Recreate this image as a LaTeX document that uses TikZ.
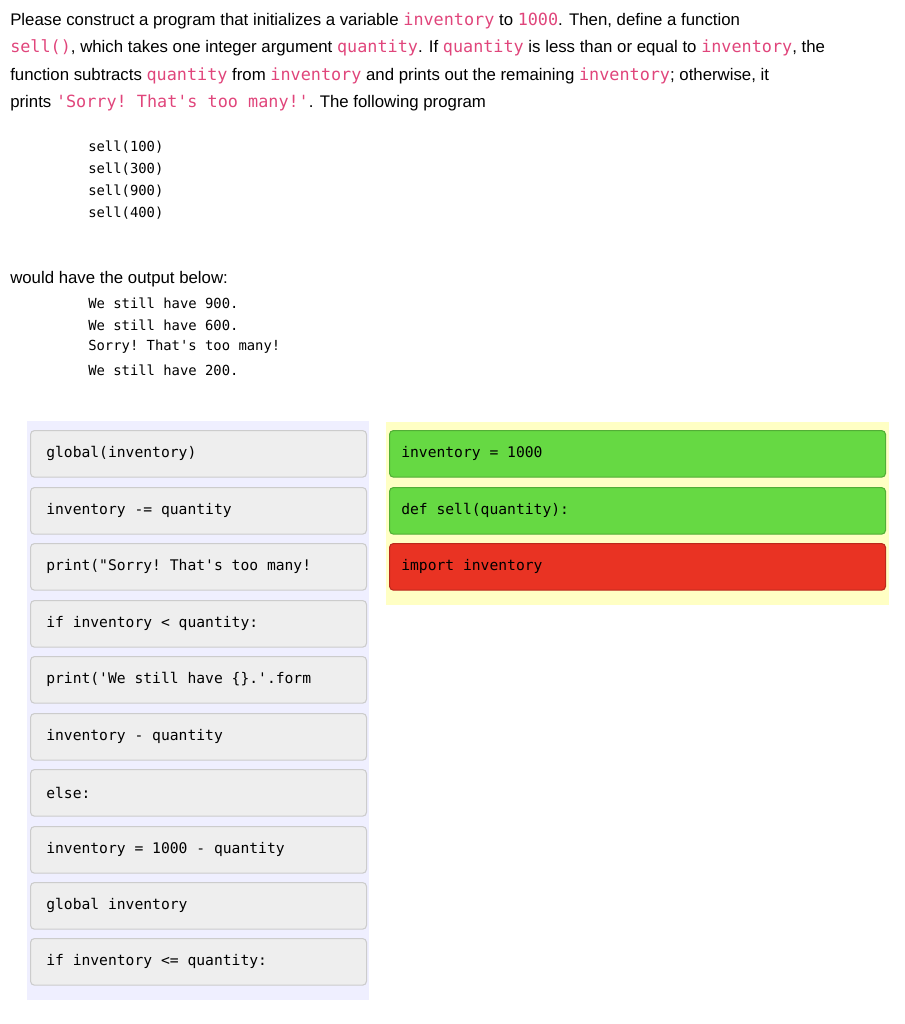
\documentclass[tikz,border=0pt]{standalone}
\usepackage{fontspec}
\setmainfont{Liberation Sans}
\setmonofont{DejaVu Sans Mono}
\definecolor{codepink}{HTML}{E0457B}
\definecolor{panelblue}{HTML}{EFEFFF}
\definecolor{panelyellow}{HTML}{FFFFC4}
\definecolor{blockgray}{HTML}{EEEEEE}
\definecolor{blockedge}{HTML}{CCCCCC}
\definecolor{okgreen}{HTML}{66D943}
\definecolor{badred}{HTML}{E93323}
\newcommand{\cd}[1]{{\ttfamily\color{codepink}#1}}
\tikzset{
  para/.style={anchor=west,inner sep=0pt,font=\fontsize{12.6}{14}\selectfont},
  codeline/.style={anchor=west,inner sep=0pt,font=\ttfamily\fontsize{10.4}{12}\selectfont},
  block/.style={draw=blockedge,fill=blockgray,rounded corners=3pt,line width=0.8pt,
    minimum width=252pt,minimum height=35pt,anchor=north west,inner sep=0pt},
  goodblock/.style={block,fill=okgreen,draw=okgreen!80!black,minimum width=372pt},
  badblock/.style={block,fill=badred,draw=badred!80!black,minimum width=372pt},
  blocktext/.style={anchor=west,inner sep=0pt,font=\ttfamily\fontsize{11}{13}\selectfont}
}
\begin{document}
\begin{tikzpicture}[x=0.75pt,y=-0.75pt]
    \useasboundingbox (0,0) rectangle (904,1024);
    % task text
    \node[para] (p1) at (10,21) {Please construct a program that initializes a variable \cd{inventory} to \cd{1000}. Then, define a function};
    \node[para] (p2) at (10,48) {\cd{sell()}, which takes one integer argument \cd{quantity}. If \cd{quantity} is less than or equal to \cd{inventory}, the};
    \node[para] (p3) at (10,76) {function subtracts \cd{quantity} from \cd{inventory} and prints out the remaining \cd{inventory}; otherwise, it};
    \node[para] (p4) at (10,103) {prints \cd{'Sorry! That's too many!'}. The following program};
    \foreach \t [count=\i] in {100,300,900,400}
      \node[codeline] (c\i) at (88,125+22*\i) {sell(\t)};
    \node[para] (p5) at (10,279) {would have the output below:};
    \node[codeline] (o1) at (88,303) {We still have 900.};
    \node[codeline] (o2) at (88,325) {We still have 600.};
    \node[codeline] (o3) at (88,347) {Sorry! That's too many!};
    \node[codeline] (o4) at (88,370) {We still have 200.};
    % panels
    \fill[panelblue] (27,421) rectangle (369,1000);
    \fill[panelyellow] (386,422) rectangle (889,605);
    % source blocks
    \foreach \t/\y [count=\i] in {
      {global(inventory)}/430,
      {inventory -= quantity}/487,
      {print("Sorry! That's too many!}/543,
      {if inventory < quantity:}/600,
      {print('We still have \{\}.'.form}/656,
      {inventory - quantity}/713,
      {else:}/769,
      {inventory = 1000 - quantity}/826,
      {global inventory}/882,
      {if inventory <= quantity:}/938} {
      \node[block] (s\i) at (30,\y) {};
      \node[blocktext] (st\i) at ([xshift=12pt]s\i.west) {\t};
    }
    % answer blocks
    \node[goodblock] (a1) at (389,430) {};
    \node[blocktext] at ([xshift=9pt]a1.west) {inventory = 1000};
    \node[goodblock] (a2) at (389,487) {};
    \node[blocktext] at ([xshift=9pt]a2.west) {def sell(quantity):};
    \node[badblock] (a3) at (389,543) {};
    \node[blocktext] at ([xshift=9pt]a3.west) {import inventory};
\end{tikzpicture}
\end{document}
